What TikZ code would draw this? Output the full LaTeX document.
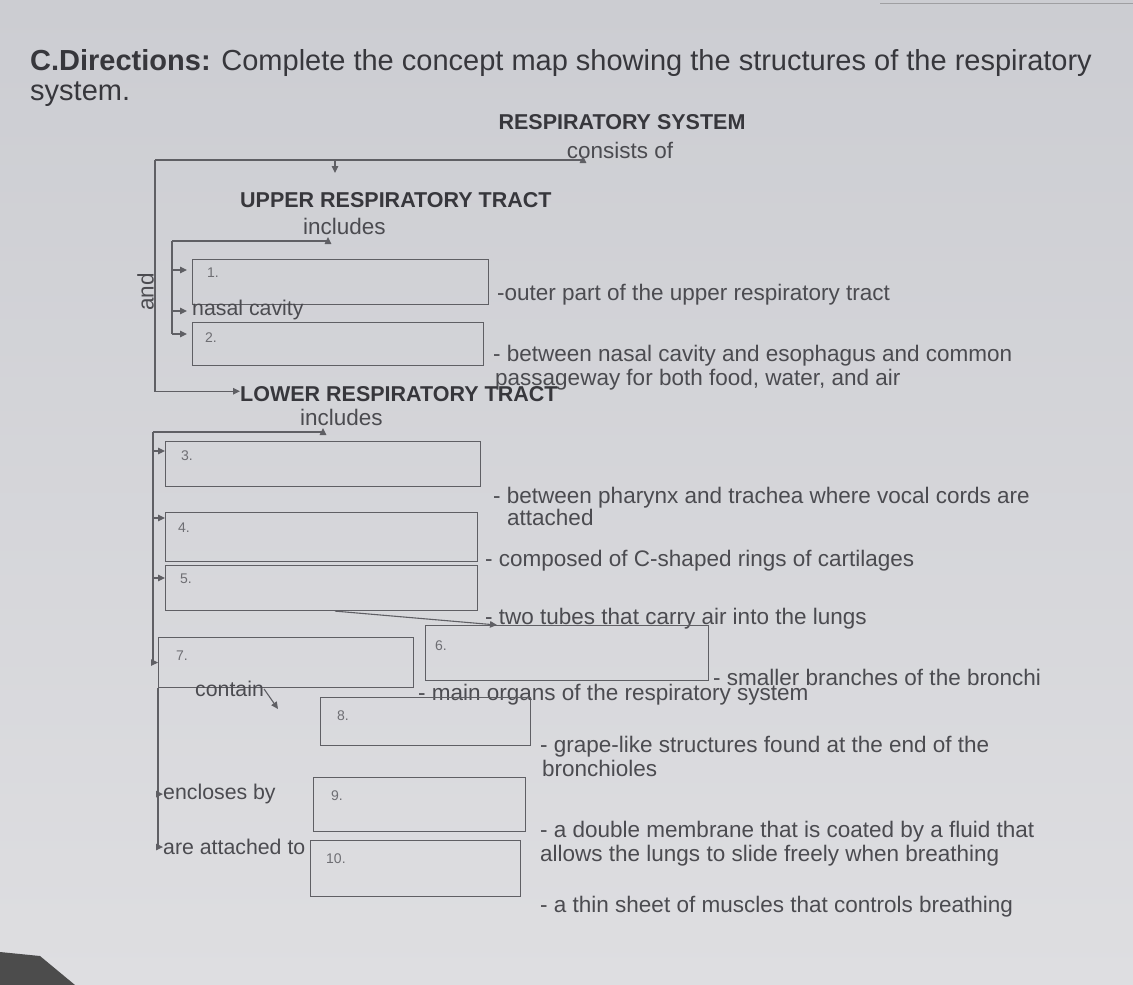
\documentclass[tikz,border=0pt]{standalone}
\usepackage{fontspec}
\setmainfont{Liberation Sans}
\usetikzlibrary{arrows.meta,calc}
\definecolor{paperT}{RGB}{204,205,210}
\definecolor{paperM}{RGB}{228,228,231}
\definecolor{paperB}{RGB}{222,222,225}
\definecolor{ink}{RGB}{55,55,60}
\definecolor{inkL}{RGB}{75,75,80}
\definecolor{inkN}{RGB}{110,110,115}
\definecolor{rule}{RGB}{95,95,100}
\tikzset{
  txt/.style={anchor=mid west, inner sep=0pt, yshift=-4pt, text=inkL, font=\fontsize{22.5}{24}\selectfont},
  stxt/.style={txt, font=\fontsize{21.3}{23}\selectfont},
  head/.style={anchor=mid west, inner sep=0pt, yshift=-4pt, text=ink, font=\fontsize{21.5}{23}\selectfont\bfseries},
  num/.style={anchor=mid west, inner sep=0pt, yshift=-3pt, text=inkN, font=\fontsize{14}{15}\selectfont},
  box/.style={draw=rule, line width=1.1pt, anchor=north west, inner sep=0pt},
  line/.style={draw=rule, line width=1.1pt},
  conn/.style={line, -{Triangle[length=7pt,width=6.5pt]}},
}
\begin{document}
\begin{tikzpicture}[x=1pt,y=-1pt]
\useasboundingbox (0,0) rectangle (1133,985);
\shade[top color=paperT, middle color=paperM, bottom color=paperB] (0,0) rectangle (1133,985);
\fill[black!70] (0,952) -- (40,956) -- (75,985) -- (0,985) -- cycle;
\draw[rule!60, line width=1pt] (880,3) -- (1133,3);

% title
\node[anchor=mid west, inner sep=0pt, yshift=-5pt, text=ink, font=\fontsize{29}{32}\selectfont] (dir) at (30,63)
  {\textbf{C.Directions:} Complete the concept map showing the structures of the respiratory};
\node[anchor=mid west, inner sep=0pt, yshift=-5pt, text=ink, font=\fontsize{29}{32}\selectfont] (dir2) at (30,93) {system.};

\node[head, anchor=mid] (rs) at (622,123) {RESPIRATORY SYSTEM};
\node[txt, anchor=mid] (cons) at (620,152) {consists of};
\node[head] (upper) at (240,201) {UPPER RESPIRATORY TRACT};
\node[txt] (inc1) at (303,228) {includes};
\node[txt, rotate=90, anchor=mid, yshift=0pt, xshift=-2pt] (and) at (151,286) {and};

% upper boxes
\node[box, minimum width=296pt, minimum height=45pt] (b1) at (192,259) {};
\node[num] (n1) at (207,272) {1.};
\node[stxt] (nasal) at (192,309) {nasal cavity};
\node[box, minimum width=291pt, minimum height=43pt] (b2) at (192,322) {};
\node[num] (n2) at (205,337) {2.};
\node[txt] (d1) at (497,294) {-outer part of the upper respiratory tract};
\node[txt, align=left, anchor=north west, yshift=0pt] (d2) at (493,341) {- between nasal cavity and esophagus and common\\\hspace*{2pt}passageway for both food, water, and air};

\node[head] (lower) at (240,395) {LOWER RESPIRATORY TRACT};
\node[txt] (inc2) at (300,419) {includes};

% lower boxes
\node[box, minimum width=315pt, minimum height=45pt] (b3) at (165,441) {};
\node[num] (n3) at (181,455) {3.};
\node[box, minimum width=312pt, minimum height=49pt] (b4) at (165,512) {};
\node[num] (n4) at (178,527) {4.};
\node[box, minimum width=312pt, minimum height=45pt] (b5) at (165,565) {};
\node[num] (n5) at (180,578) {5.};
\node[txt, align=left, anchor=north west, yshift=0pt, font=\fontsize{22.5}{19}\selectfont] (d3) at (493,483) {- between pharynx and trachea where vocal cords are\\\hspace*{14pt}attached};
\node[txt] (d4) at (485,560) {- composed of C-shaped rings of cartilages};
\node[txt] (d5) at (485,618) {- two tubes that carry air into the lungs};

\node[box, minimum width=283pt, minimum height=55pt] (b6) at (425,625) {};
\node[num] (n6) at (435,645) {6.};
\node[txt] (d6) at (713,679) {- smaller branches of the bronchi};
\node[box, minimum width=255pt, minimum height=50pt] (b7) at (158,637) {};
\node[num] (n7) at (176,655) {7.};
\node[txt] (d7) at (418,694) {- main organs of the respiratory system};
\node[stxt] (contain) at (195,690) {contain};
\node[box, minimum width=210pt, minimum height=48pt] (b8) at (320,697) {};
\node[num] (n8) at (337,715) {8.};
\node[txt, align=left, anchor=north west, yshift=0pt] (d8) at (540,732) {- grape-like structures found at the end of the\\\hspace*{2pt}bronchioles};
\node[stxt] (encl) at (163,793) {encloses by};
\node[box, minimum width=212pt, minimum height=54pt] (b9) at (313,777) {};
\node[num] (n9) at (331,795) {9.};
\node[txt, align=left, anchor=north west, yshift=0pt] (d9) at (540,817) {- a double membrane that is coated by a fluid that\\allows the lungs to slide freely when breathing};
\node[stxt] (att) at (163,848) {are attached to};
\node[box, minimum width=210pt, minimum height=56pt] (b10) at (310,840) {};
\node[num] (n10) at (326,858) {10.};
\node[txt] (d10) at (540,906) {- a thin sheet of muscles that controls breathing};

% connectors
\coordinate (tl) at (155,160);
\coordinate (ctip) at (583,160);
\draw[conn] (tl) -- (ctip) -- ++(0,-4);
\coordinate (dn) at (335,160);
\draw[conn] (dn) -- ++(0,13);
\draw[conn] (tl) |- ($(lower.west)+(0,-3)$);
\coordinate (ui) at (172,241);
\coordinate (uitip) at (328,241);
\draw[conn] (ui) -- (uitip) -- ++(0,-4);
\coordinate (ub1) at (172,270);
\coordinate (ub2) at (172,311);
\coordinate (ub3) at (172,334);
\draw[line] (ui) -- (ub3);
\draw[conn, shorten >=5pt] (ub1) -- (ub1 -| b1.west);
\draw[conn, shorten >=5pt] (ub2) -- (ub2 -| nasal.west);
\draw[conn, shorten >=5pt] (ub3) -- (ub3 -| b2.west);

\coordinate (li) at (153,432);
\coordinate (litip) at (323,432);
\draw[conn] (li) -- (litip) -- ++(0,-4);
\draw[conn] (li) |- (b7.west);
\coordinate (lb3) at (153,451);
\coordinate (lb4) at (153,518);
\coordinate (lb5) at (153,578);
\draw[conn] (lb3) -- (lb3 -| b3.west);
\draw[conn] (lb4) -- (lb4 -| b4.west);
\draw[conn] (lb5) -- (lb5 -| b5.west);
\draw[conn] ($(b5.south west)+(170,0)$) -- ($(b6.north west)+(72,0)$);
\draw[conn] (b7.south west) |- (att.west);
\draw[conn] (b7.south west |- encl.west) -- (encl.west);
\coordinate (c8) at (278,709);
\draw[conn] (contain.east) -- (c8);
\end{tikzpicture}
\end{document}
